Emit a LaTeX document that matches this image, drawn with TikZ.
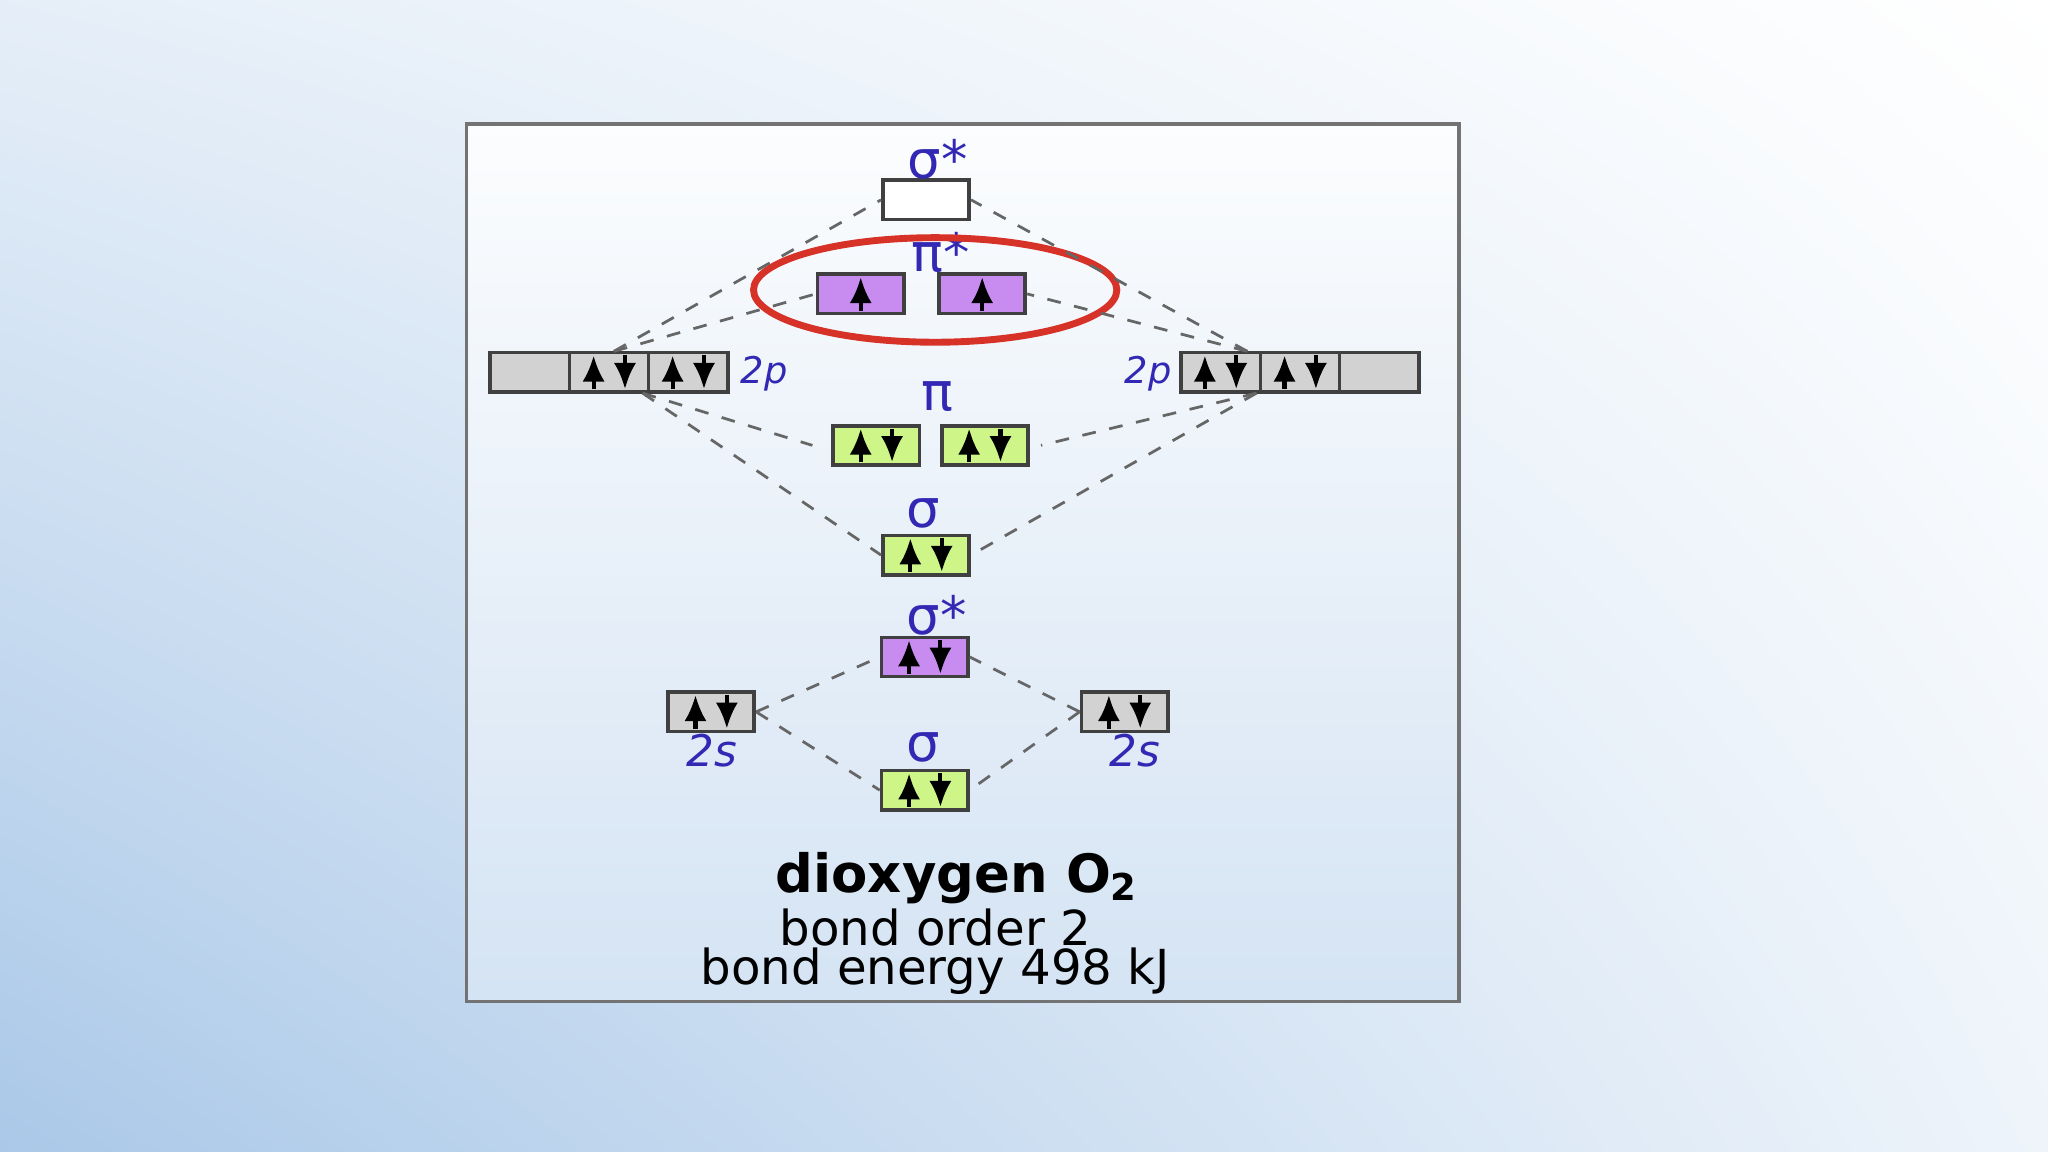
\documentclass[tikz,border=0pt]{standalone}
\usepackage{fontspec}
\setmainfont{DejaVu Sans}
\usetikzlibrary{arrows.meta,calc,shadings,shapes.geometric}
\definecolor{lab}{RGB}{50,40,180}
\definecolor{pur}{RGB}{200,140,240}
\definecolor{grn}{RGB}{205,245,135}
\definecolor{gry}{RGB}{210,210,210}
\definecolor{bgb}{RGB}{170,200,232}
\definecolor{ringc}{RGB}{215,50,40}
\tikzset{
  orb/.style={draw=black!75,line width=0.8pt,minimum width=0.66cm,minimum height=0.30cm,inner sep=0pt},
  lbl/.style={text=lab,font=\fontsize{11.5}{12}\selectfont},
  lbls/.style={text=lab,font=\fontsize{8}{8}\selectfont\itshape},
  conn/.style={dashed,draw=black!60,line width=0.6pt},
  el/.style={-{Latex[length=2mm,width=1.7mm]},line width=0.9pt}
}
\newcommand{\pairin}[1]{%
  \draw[el] ([xshift=-0.12cm,yshift=1pt]#1.south) -- ([xshift=-0.12cm,yshift=-1pt]#1.north);
  \draw[el] ([xshift=0.12cm,yshift=-1pt]#1.north) -- ([xshift=0.12cm,yshift=1pt]#1.south);}
\newcommand{\singin}[1]{%
  \draw[el] ([yshift=1pt]#1.south) -- ([yshift=-1pt]#1.north);}
\begin{document}
\begin{tikzpicture}[x=0.01cm,y=-0.01cm]
\useasboundingbox (0,0) rectangle (1568,882);
\shade[lower left=bgb,upper right=white,lower right=white!80!bgb,upper left=white!70!bgb] (0,0) rectangle (1568,882);
\shade[top color=white!96!bgb,bottom color=white!50!bgb] (357,95) rectangle (1117,767);
\draw[draw=black!55,line width=0.7pt] (357,95) rectangle (1117,767);
% orbitals
\node[orb,fill=white] (ss) at (709,153) {};
\node[lbl] (ssl) at (718,122) {σ*};
\node[orb,fill=pur] (pa) at (659,225) {};
\node[orb,fill=pur] (pb) at (752,225) {};
\node[lbl] (psl) at (720,193) {π*};
\node[draw=ringc,line width=1.5pt,ellipse,minimum width=2.78cm,minimum height=0.8cm] (ring) at (716,222) {};
\node[orb,fill=gry,minimum width=0.61cm] (l1) at (405.5,285) {};
\node[orb,fill=gry,minimum width=0.61cm] (l2) at (466.5,285) {};
\node[orb,fill=gry,minimum width=0.61cm] (l3) at (527,285) {};
\node[lbls] (l2p) at (585,286) {2\textit{p}};
\node[orb,fill=gry,minimum width=0.61cm] (r1) at (934.5,285) {};
\node[orb,fill=gry,minimum width=0.61cm] (r2) at (995.5,285) {};
\node[orb,fill=gry,minimum width=0.61cm] (r3) at (1056,285) {};
\node[lbls] (r2p) at (879,286) {2\textit{p}};
\node[orb,fill=grn] (qa) at (671,341) {};
\node[orb,fill=grn] (qb) at (754,341) {};
\node[lbl] (pl) at (718,304) {π};
\node[orb,fill=grn] (sg) at (709,425) {};
\node[lbl] (sgl) at (707,393) {σ};
\node[orb,fill=pur] (s2s) at (708,503) {};
\node[lbl] (s2sl) at (717,471) {σ*};
\node[orb,fill=gry] (ls) at (544.5,545) {};
\node[lbls,font=\fontsize{9.5}{10}\selectfont\itshape] (lsl) at (545,575) {2\textit{s}};
\node[orb,fill=gry] (rs) at (861,545) {};
\node[lbls,font=\fontsize{9.5}{10}\selectfont\itshape] (rsl) at (869,575) {2\textit{s}};
\node[orb,fill=grn] (s2) at (708,605) {};
\node[lbl] (s2l) at (707,572) {σ};
% electrons
\singin{pa}\singin{pb}
\pairin{l2}\pairin{l3}\pairin{r1}\pairin{r2}
\pairin{qa}\pairin{qb}\pairin{sg}\pairin{s2s}\pairin{ls}\pairin{rs}\pairin{s2}
% connectors
\coordinate (lt) at (470,269);
\coordinate (rt) at (955,269);
\coordinate (lb) at (492,301);
\coordinate (rb) at (962,301);
\coordinate (qal) at (622,341);
\coordinate (qbr) at (797,341);
\draw[conn] (lt) -- (ss.west);
\draw[conn] (lt) -- (pa.west);
\draw[conn] (rt) -- (ss.east);
\draw[conn] (rt) -- (pb.east);
\draw[conn] (lb) -- (qal);
\draw[conn] (lb) -- (sg.west);
\draw[conn] (rb) -- (qbr);
\draw[conn] (rb) -- (sg.east);
\draw[conn] (ls.east) -- (s2s.west);
\draw[conn] (ls.east) -- (s2.west);
\draw[conn] (rs.west) -- (s2s.east);
\draw[conn] (rs.west) -- (s2.east);
% text
\node[font=\fontsize{11.5}{12}\selectfont\bfseries] (title) at (733,672) {dioxygen O\textsubscript{2}};
\node[font=\fontsize{10.5}{8.5}\selectfont,align=center] (info) at (716,729) {bond order 2\\bond energy 498 kJ};
\end{tikzpicture}
\end{document}
